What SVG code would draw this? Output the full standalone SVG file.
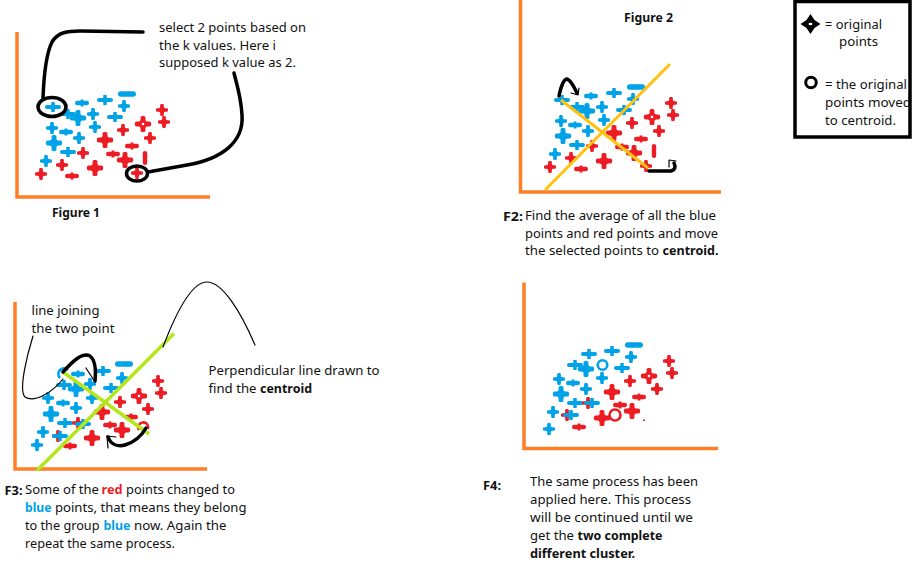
<svg xmlns="http://www.w3.org/2000/svg" xmlns:xlink="http://www.w3.org/1999/xlink" width="912" height="570" viewBox="0 0 912 570">
<style>
.t{font-family:"Noto Sans","Open Sans",sans-serif;font-size:13px;fill:#111}
.bd{font-weight:bold}
.b{fill:#00a2e8}
.r{fill:#ed1c24}
.ax{stroke:#ff7f27;stroke-width:3.5;fill:none}
.ink{stroke:#000;stroke-width:3.5;fill:none;stroke-linecap:round;stroke-linejoin:round}
.thin{stroke:#000;stroke-width:1.2;fill:none;stroke-linecap:round}
.ring{fill:none;stroke-width:2.6}
</style>
<defs>
<g id="pl"><rect x="-6" y="-1.8" width="12" height="3.6" rx="1.2"/><rect x="-1.8" y="-6" width="3.6" height="12" rx="1.2"/><polygon points="0,-4.5 4.5,0 0,4.5 -4.5,0"/></g>
<g id="bp"><use href="#pl" transform="scale(1.35)"/></g>
<g id="ds"><rect x="-8" y="-2" width="16" height="4" rx="2"/><rect x="-1.7" y="-5" width="3.4" height="10"/><polygon points="0,-3.5 4.5,0 0,3.5 -4.5,0"/></g>
<g id="dh"><rect x="-7" y="-2.2" width="14" height="4.4" rx="2.2"/><rect x="-1.4" y="-3.5" width="2.8" height="7"/></g>
<rect id="wd" x="-9" y="-2.7" width="18" height="5.4" rx="2.7"/>
<rect id="vd" x="-2.2" y="-7" width="4.4" height="14" rx="2.2"/>
<g id="sd"><use href="#bp"/><circle r="1.3" fill="#fff"/></g>
<g id="cloud1">
<use href="#ds" class="b" x="53" y="107"/>
<use href="#dh" class="b" x="82" y="103"/>
<use href="#ds" class="b" x="105" y="100"/>
<use href="#wd" class="b" x="127" y="94"/>
<use href="#pl" class="b" x="124" y="106"/>
<use href="#ds" class="b" x="68" y="114"/>
<use href="#bp" class="b" x="78" y="118"/>
<use href="#pl" class="b" x="93" y="114"/>
<use href="#ds" class="b" x="115" y="117"/>
<use href="#pl" class="b" x="52" y="128"/>
<use href="#dh" class="b" x="66" y="132"/>
<use href="#pl" class="b" x="95" y="127"/>
<use href="#pl" class="b" x="79" y="138"/>
<use href="#bp" class="b" x="54" y="143"/>
<use href="#ds" class="b" x="68" y="152"/>
<use href="#pl" class="b" x="46" y="161"/>
<use href="#pl" class="r" x="162" y="110"/>
<use href="#pl" class="r" x="164" y="122"/>
<use href="#sd" class="r" x="143" y="124"/>
<use href="#pl" class="r" x="123" y="130"/>
<use href="#bp" class="r" x="105" y="140"/>
<use href="#pl" class="r" x="150" y="138"/>
<use href="#dh" class="r" x="132" y="146"/>
<use href="#pl" class="r" x="83" y="153"/>
<use href="#dh" class="r" x="113" y="154"/>
<use href="#bp" class="r" x="125" y="160"/>
<use href="#vd" class="r" x="145" y="158"/>
<use href="#pl" class="r" x="62" y="165"/>
<use href="#bp" class="r" x="95" y="168"/>
<use href="#pl" class="r" x="41" y="174"/>
<use href="#dh" class="r" x="72" y="176"/>
<use href="#pl" class="r" x="137" y="173"/>
</g>
</defs>

<g id="figure1">
<path class="ax" d="M17,32 V197 H210"/>
<use href="#cloud1"/>
<ellipse cx="52" cy="107" rx="14" ry="9.5" class="ink"/>
<ellipse cx="137" cy="173.5" rx="10.5" ry="7.5" class="ink"/>
<path class="ink" d="M43,98 C44,72 47,52 52,42 C58,32 68,31 80,31 L143,32"/>
<path class="ink" d="M148,172 L187,165 C222,159 244,142 242,115 C241,96 236,82 234,73"/>
<text class="t" x="159" y="32" textLength="147" lengthAdjust="spacingAndGlyphs">select 2 points based on</text>
<text class="t" x="159" y="49.5" textLength="117" lengthAdjust="spacingAndGlyphs">the k values. Here i</text>
<text class="t" x="159" y="67" textLength="137" lengthAdjust="spacingAndGlyphs">supposed k value as 2.</text>
<text class="t bd" x="52" y="216.5" textLength="48" lengthAdjust="spacingAndGlyphs">Figure 1</text>
</g>

<g id="figure2">
<path class="ax" d="M520.5,0 V192 H721"/>
<use href="#cloud1" transform="translate(509,-7)"/>
<line x1="545" y1="190" x2="670" y2="64" stroke="#ffc20e" stroke-width="3"/>
<line x1="561" y1="100" x2="648" y2="168" stroke="#ffc20e" stroke-width="3"/>
<path class="ink" d="M559,96 C561,86 564,79 567,79 C571,80 574,87 577,93"/>
<path class="thin" stroke-width="1.6" d="M578,95 L571,93 M578,95 L579,88"/>
<path class="ink" d="M649,171 L671,171 C675,170 676,167 674,163"/>
<path class="thin" stroke-width="1.6" d="M669,160 L669,167 M669,160 L676,161"/>
<text class="t bd" x="624" y="22" textLength="49" lengthAdjust="spacingAndGlyphs">Figure 2</text>
<text class="t bd" x="503" y="220.5" textLength="20" lengthAdjust="spacingAndGlyphs">F2:</text>
<text class="t" x="525" y="220" textLength="191" lengthAdjust="spacingAndGlyphs">Find the average of all the blue</text>
<text class="t" x="525" y="237.5" textLength="193" lengthAdjust="spacingAndGlyphs">points and red points and move</text>
<text class="t" x="525" y="255" textLength="134" lengthAdjust="spacingAndGlyphs">the selected points to</text>
<text class="t bd" x="662.5" y="255" textLength="56" lengthAdjust="spacingAndGlyphs">centroid.</text>
</g>

<g id="legend">
<polygon points="810.5,14 814.5,20 820.5,24 814.5,28 810.5,34 806.5,28 800.5,24 806.5,20" fill="#000"/>
<ellipse cx="810.5" cy="24" rx="2" ry="1.2" fill="#fff"/>
<circle cx="811" cy="82.5" r="5.3" fill="none" stroke="#000" stroke-width="3"/>
<text class="t" x="825" y="28.5" textLength="57" lengthAdjust="spacingAndGlyphs">= original</text>
<text class="t" x="839" y="46" textLength="39" lengthAdjust="spacingAndGlyphs">points</text>
<text class="t" x="825" y="88.5" textLength="82" lengthAdjust="spacingAndGlyphs">= the original</text>
<text class="t" x="825" y="107" textLength="86" lengthAdjust="spacingAndGlyphs">points moved</text>
<text class="t" x="825" y="124.5" textLength="71" lengthAdjust="spacingAndGlyphs">to centroid.</text>
<rect x="795" y="1.5" width="115" height="135.5" fill="none" stroke="#000" stroke-width="3.5"/>
</g>

<g id="figure3">
<path class="ax" d="M15,302 V469 H207"/>
<g transform="translate(-4,271)">
<use href="#dh" class="b" x="82" y="103"/>
<use href="#ds" class="b" x="107" y="100"/>
<use href="#wd" class="b" x="128" y="93"/>
<use href="#pl" class="b" x="126" y="107"/>
<use href="#ds" class="b" x="68" y="114"/>
<use href="#bp" class="b" x="80" y="118"/>
<use href="#pl" class="b" x="94" y="113"/>
<use href="#ds" class="b" x="115" y="117"/>
<use href="#pl" class="b" x="52" y="127"/>
<use href="#dh" class="b" x="67" y="132"/>
<use href="#pl" class="b" x="96" y="127"/>
<use href="#pl" class="b" x="80" y="137"/>
<use href="#bp" class="b" x="55" y="143"/>
<use href="#ds" class="b" x="69" y="152"/>
<use href="#pl" class="b" x="47" y="161"/>
<use href="#pl" class="r" x="162" y="110"/>
<use href="#pl" class="r" x="165" y="122"/>
<use href="#sd" class="r" x="143" y="125"/>
<use href="#pl" class="r" x="124" y="131"/>
<use href="#bp" class="r" x="106" y="141"/>
<use href="#pl" class="r" x="152" y="138"/>
<use href="#dh" class="r" x="135" y="146"/>
<use href="#pl" class="r" x="82" y="152"/>
<use href="#ds" class="b" x="87" y="153"/>
<use href="#dh" class="r" x="114" y="154"/>
<use href="#bp" class="r" x="126" y="159"/>
<use href="#pl" class="r" x="62" y="165"/>
<use href="#ds" class="b" x="64" y="165"/>
<use href="#bp" class="r" x="96" y="167"/>
<use href="#pl" class="b" x="41" y="174"/>
<use href="#dh" class="r" x="74" y="175"/>
</g>
<path d="M60,378 A5,5 0 1 1 68,370" fill="none" stroke="#00a2e8" stroke-width="2.6"/>
<path d="M139,430 A5,5 0 1 1 148,429" fill="none" stroke="#ed1c24" stroke-width="2.6"/>
<line x1="37" y1="470.5" x2="174" y2="333.5" stroke="#b5e61d" stroke-width="3.5"/>
<line x1="63" y1="372" x2="149" y2="434" stroke="#b5e61d" stroke-width="3.5"/>
<path class="ink" d="M63,372 C72,362 82,352 90,356 C95,360 96,371 95,381"/>
<path class="thin" d="M95,382 L86,368"/>
<path class="ink" d="M108,437 C111,445 118,447 125,445 C135,442 142,435 146,428"/>
<path class="thin" d="M107,436 L108,448 M107,436 L116,437"/>
<path class="thin" d="M33,336 C28,352 18,390 25,397 C34,403 52,393 63,379"/>
<path class="thin" d="M163,347 C180,302 195,282 207,282 C222,282 240,310 255,345"/>
<text class="t" x="31.5" y="315" textLength="68" lengthAdjust="spacingAndGlyphs">line joining</text>
<text class="t" x="31.5" y="332.5" textLength="83" lengthAdjust="spacingAndGlyphs">the two point</text>
<text class="t" x="208.5" y="374.5" textLength="171" lengthAdjust="spacingAndGlyphs">Perpendicular line drawn to</text>
<text class="t" x="208.5" y="392.5" textLength="48" lengthAdjust="spacingAndGlyphs">find the</text>
<text class="t bd" x="260" y="392.5" textLength="52" lengthAdjust="spacingAndGlyphs">centroid</text>
<text class="t bd" x="4.5" y="494.5" textLength="18" lengthAdjust="spacingAndGlyphs">F3:</text>
<text class="t" x="25" y="494" textLength="74" lengthAdjust="spacingAndGlyphs">Some of the</text>
<text class="t bd" x="101.5" y="494" textLength="21" lengthAdjust="spacingAndGlyphs" style="fill:#ed1c24">red</text>
<text class="t" x="126" y="494" textLength="109" lengthAdjust="spacingAndGlyphs">points changed to</text>
<text class="t bd" x="25" y="512" textLength="26.5" lengthAdjust="spacingAndGlyphs" style="fill:#00a2e8">blue</text>
<text class="t" x="55" y="512" textLength="191.5" lengthAdjust="spacingAndGlyphs">points, that means they belong</text>
<text class="t" x="25" y="530" textLength="74.5" lengthAdjust="spacingAndGlyphs">to the group</text>
<text class="t bd" x="103.5" y="530" textLength="27" lengthAdjust="spacingAndGlyphs" style="fill:#00a2e8">blue</text>
<text class="t" x="134" y="530" textLength="92.5" lengthAdjust="spacingAndGlyphs">now. Again the</text>
<text class="t" x="25" y="548" textLength="150" lengthAdjust="spacingAndGlyphs">repeat the same process.</text>
</g>

<g id="figure4">
<path class="ax" d="M524,282.5 V448.5 H718"/>
<g transform="translate(507,251)">
<use href="#ds" class="b" x="82" y="103"/>
<use href="#ds" class="b" x="105" y="100"/>
<use href="#wd" class="b" x="127" y="94"/>
<use href="#pl" class="b" x="124" y="106"/>
<use href="#ds" class="b" x="68" y="114"/>
<use href="#bp" class="b" x="79" y="118"/>
<use href="#ds" class="b" x="115" y="117"/>
<use href="#pl" class="b" x="52" y="128"/>
<use href="#dh" class="b" x="66" y="132"/>
<use href="#pl" class="b" x="95" y="127"/>
<use href="#pl" class="b" x="79" y="138"/>
<use href="#bp" class="b" x="54" y="143"/>
<use href="#ds" class="b" x="68" y="152"/>
<use href="#pl" class="b" x="46" y="161"/>
<use href="#pl" class="r" x="162" y="110"/>
<use href="#pl" class="r" x="165" y="122"/>
<use href="#sd" class="r" x="142" y="125"/>
<use href="#pl" class="r" x="123" y="130"/>
<use href="#bp" class="r" x="105" y="141"/>
<use href="#pl" class="r" x="150" y="138"/>
<use href="#dh" class="r" x="132" y="146"/>
<use href="#pl" class="r" x="81" y="152"/>
<use href="#ds" class="b" x="85" y="152"/>
<use href="#dh" class="r" x="113" y="154"/>
<use href="#bp" class="r" x="125" y="160"/>
<use href="#pl" class="r" x="60" y="164"/>
<use href="#ds" class="b" x="64" y="164"/>
<use href="#bp" class="r" x="95" y="167"/>
<use href="#pl" class="b" x="42" y="178"/>
<use href="#dh" class="r" x="72" y="176"/>
<rect x="136" y="168.5" width="2" height="1.5" class="r"/>
</g>
<circle cx="602.5" cy="365" r="4.8" class="ring" stroke="#00a2e8"/>
<circle cx="615" cy="415" r="5.5" class="ring" stroke="#ed1c24"/>
<text class="t bd" x="483" y="489.5" textLength="18" lengthAdjust="spacingAndGlyphs">F4:</text>
<text class="t" x="530" y="486" textLength="168" lengthAdjust="spacingAndGlyphs">The same process has been</text>
<text class="t" x="530" y="504" textLength="161" lengthAdjust="spacingAndGlyphs">applied here. This process</text>
<text class="t" x="530" y="522" textLength="163" lengthAdjust="spacingAndGlyphs">will be continued until we</text>
<text class="t" x="530" y="540" textLength="44" lengthAdjust="spacingAndGlyphs">get the</text>
<text class="t bd" x="577.5" y="540" textLength="85" lengthAdjust="spacingAndGlyphs">two complete</text>
<text class="t bd" x="530" y="557.5" textLength="105" lengthAdjust="spacingAndGlyphs">different cluster.</text>
</g>
</svg>
